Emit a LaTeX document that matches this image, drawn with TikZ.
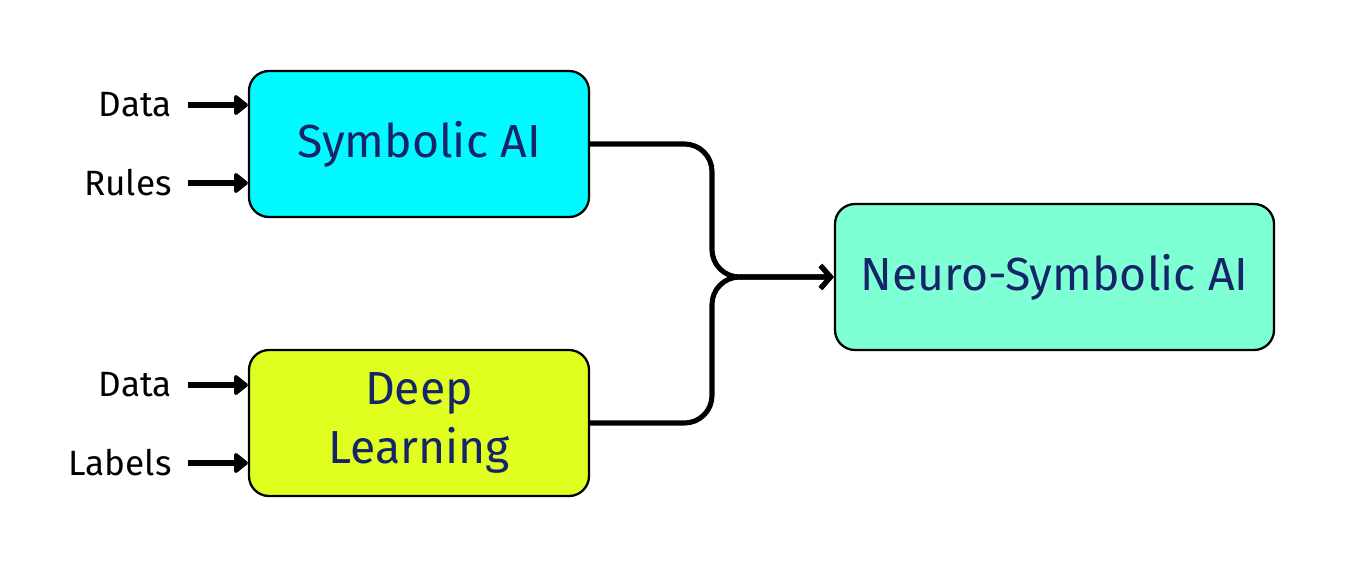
\documentclass[tikz,border=0pt]{standalone}
\usepackage{fontspec}
\setmainfont{Fira Sans}
\usetikzlibrary{arrows.meta,positioning}

\begin{document}
\begin{tikzpicture}[
        node distance=5.58cm,
    ]

    \tikzstyle{box} = [rectangle, rounded corners=0.4cm, minimum width=6.8cm, minimum height=2.92cm,
                       text centered, draw=black, line width=1.3pt, text=textnavy,
                       font=\fontsize{26.4}{33.5}\selectfont, align=center];
    \tikzstyle{lbl} = [anchor=east, inner xsep=0.32cm, font=\fontsize{20}{24}\selectfont];
    \tikzstyle{feed} = [-{Triangle[length=0.3cm, width=0.46cm, round]}, line width=3pt];
    \tikzstyle{mergeline} = [-{Straight Barb[length=0.2cm, width=0.46cm]}, line width=2.9pt,
                        rounded corners=0.55cm];

    \definecolor{symbcyan}{RGB}{0,250,255}
    \definecolor{deeplime}{RGB}{224,255,32}
    \definecolor{neuroaqua}{RGB}{127,255,212}
    \definecolor{textnavy}{RGB}{22,36,104}

    \useasboundingbox (0,0) rectangle (26.9,-11.36);

    % Nodes
    \node[box, fill=symbcyan] (symb) at (8.38,-2.88) {Symbolic AI};
    \node[box, fill=deeplime, below of=symb] (deep) {Deep\\Learning};
    \node[box, fill=neuroaqua, minimum width=8.78cm] (neuro) at (21.09,-5.54) {Neuro-Symbolic AI};
    \coordinate (merge) at (14.24,-5.54);

    % Inputs
    \node[lbl] (sdata) at (3.76,-2.10) {Data};
    \node[lbl] (srules) at (3.76,-3.66) {Rules};
    \node[lbl] (ddata) at (3.76,-7.70) {Data};
    \node[lbl] (dlabels) at (3.76,-9.26) {Labels};

    \draw[feed] (sdata.east) -- (sdata.east -| symb.west);
    \draw[feed] (srules.east) -- (srules.east -| symb.west);
    \draw[feed] (ddata.east) -- (ddata.east -| deep.west);
    \draw[feed] (dlabels.east) -- (dlabels.east -| deep.west);

    % Arrows
    \draw[mergeline] (symb.east) -| (merge) -- (neuro.west);
    \draw[mergeline] (deep.east) -| (merge) -- (neuro.west);

\end{tikzpicture}
\end{document}
